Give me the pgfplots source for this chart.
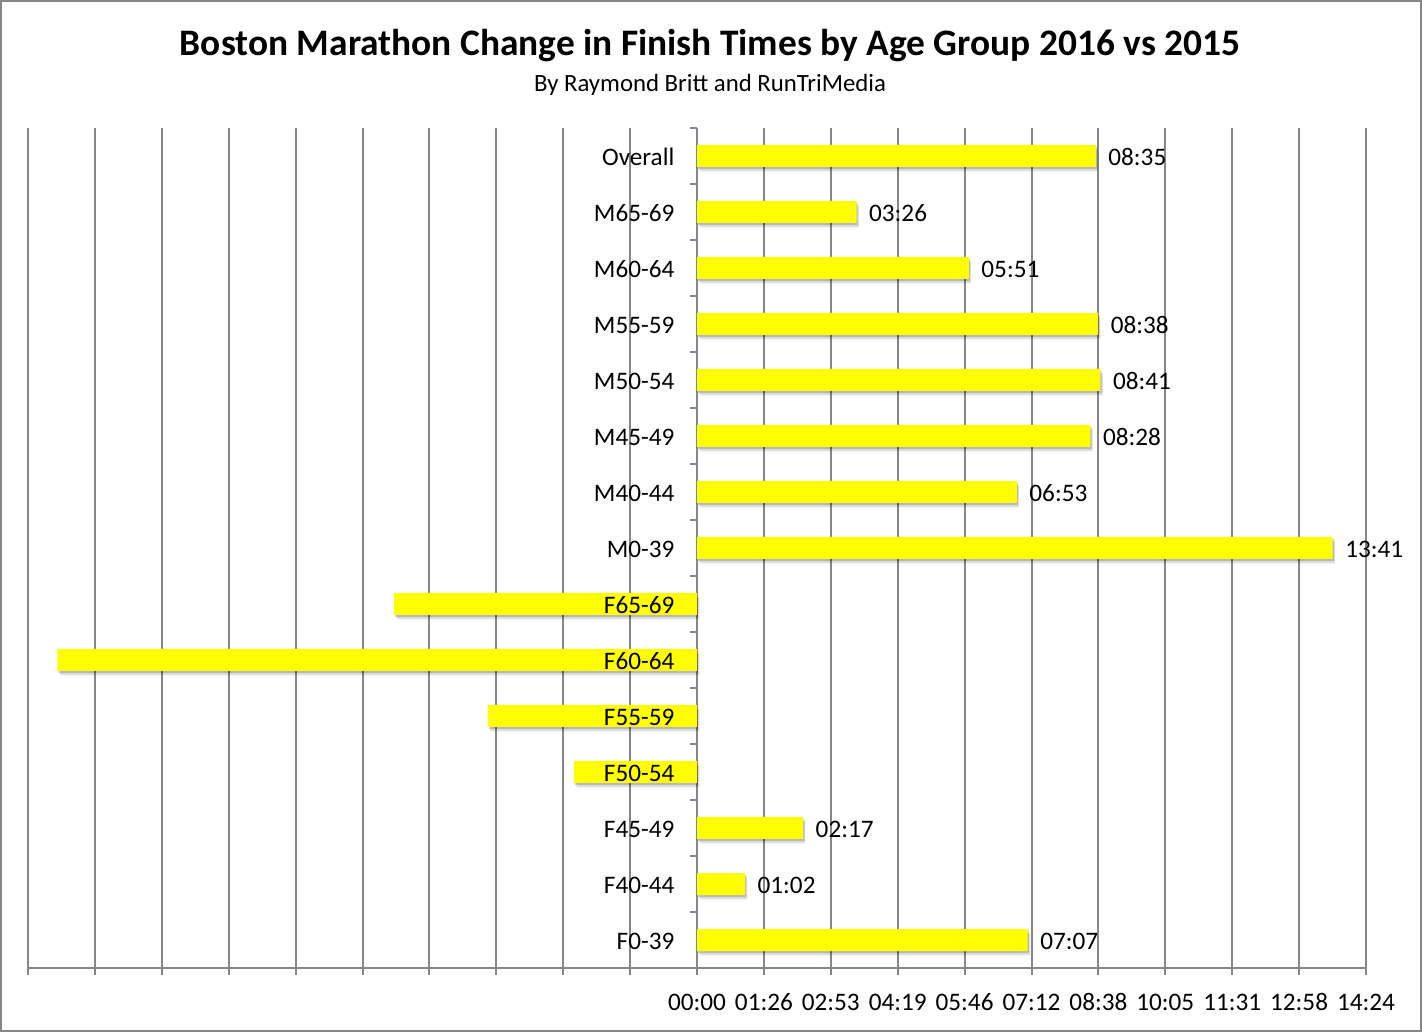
\documentclass[border=0pt]{standalone}
\usepackage{pgfplots}
\pgfplotsset{compat=1.18}
\usepackage{pgfplotstable}
\usepackage{fontspec}
\setmainfont{Carlito}

\definecolor{gridgray}{HTML}{868686}
\definecolor{baryellow}{HTML}{FFFF00}

% change in seconds, 2016 vs 2015 (idx 0 = F0-39 at the bottom)
\pgfplotstableread{
idx sec  lab
0   427  07:07
1   62   01:02
2   137  02:17
3   -159 {}
4   -270 {}
5   -826 {}
6   -391 {}
7   821  13:41
8   413  06:53
9   508  08:28
10  521  08:41
11  518  08:38
12  351  05:51
13  206  03:26
14  515  08:35
}\agedata

\tikzset{lbl/.style={font=\fontsize{12.6}{15}\selectfont, text=black}}
\pgfplotsset{
  chartbox/.style={
    scale only axis,
    width=669pt, height=420pt,
    xmin=-864, xmax=864,
    ymin=-0.5, ymax=14.5,
  },
}

\begin{document}
\begin{tikzpicture}

\begin{axis}[
    chartbox,
    xbar, bar width=11pt, bar shift=0pt,
    axis x line*=bottom, axis y line*=left,
    x axis line style={gridgray, line width=1pt},
    y axis line style={gridgray, line width=1pt, xshift=334.5pt},
    tick align=outside, major tick length=3.5pt,
    tick style={gridgray, line width=1pt},
    ytick style={xshift=334.5pt},
    xtick={-864,-777.6,-691.2,-604.8,-518.4,-432,-345.6,-259.2,-172.8,-86.4,0,86.4,172.8,259.2,345.6,432,518.4,604.8,691.2,777.6,864},
    xticklabels={{},{},{},{},{},{},{},{},{},{},00:00,01:26,02:53,04:19,05:46,07:12,08:38,10:05,11:31,12:58,14:24},
    xmajorgrids,
    grid style={gridgray, line width=1pt},
    ytick={-0.5,0.5,...,14.5},
    yticklabels={},
    xticklabel style={lbl, anchor=base, yshift=-17.5pt},
]
% soft shadow behind the bars, two faint layers
\addplot[fill=black, fill opacity=0.12, draw=none, xshift=1.2pt, yshift=-2.2pt, forget plot]
    table[x=sec, y=idx] {\agedata};
\addplot[fill=black, fill opacity=0.18, draw=none, xshift=0.6pt, yshift=-1.1pt, forget plot]
    table[x=sec, y=idx] {\agedata};
\addplot[fill=baryellow, draw=none,
    nodes near coords, point meta=explicit symbolic,
    nodes near coords align={horizontal},
    nodes near coords style={lbl, anchor=west, xshift=2.8pt, yshift=-0.5pt}]
    table[x=sec, y=idx, meta=lab] {\agedata};
\end{axis}

% second pass: category names drawn over the bars
\begin{axis}[
    chartbox,
    hide x axis,
    axis y line*=left,
    y axis line style={draw=none},
    ytick style={draw=none},
    major tick length=3.5pt,
    ytick={0,...,14},
    yticklabels={F0-39,F40-44,F45-49,F50-54,F55-59,F60-64,F65-69,M0-39,M40-44,M45-49,M50-54,M55-59,M60-64,M65-69,Overall},
    yticklabel style={lbl, xshift=326.7pt, yshift=-0.5pt},
]
\addplot[draw=none, mark=none, forget plot] table[x=sec, y=idx] {\agedata};
\end{axis}

\node[font=\bfseries\fontsize{18.7}{22}\selectfont] at (341pt,461pt)
    {Boston Marathon Change in Finish Times by Age Group 2016 vs 2015};
\node[font=\fontsize{12.4}{14}\selectfont] at (341pt,441.5pt)
    {By Raymond Britt and RunTriMedia};
\draw[gridgray, line width=1pt] (-13.5pt,-31.5pt) rectangle (696.5pt,483.5pt);
\useasboundingbox (-14pt,-32pt) rectangle (697pt,484pt);
\end{tikzpicture}
\end{document}
